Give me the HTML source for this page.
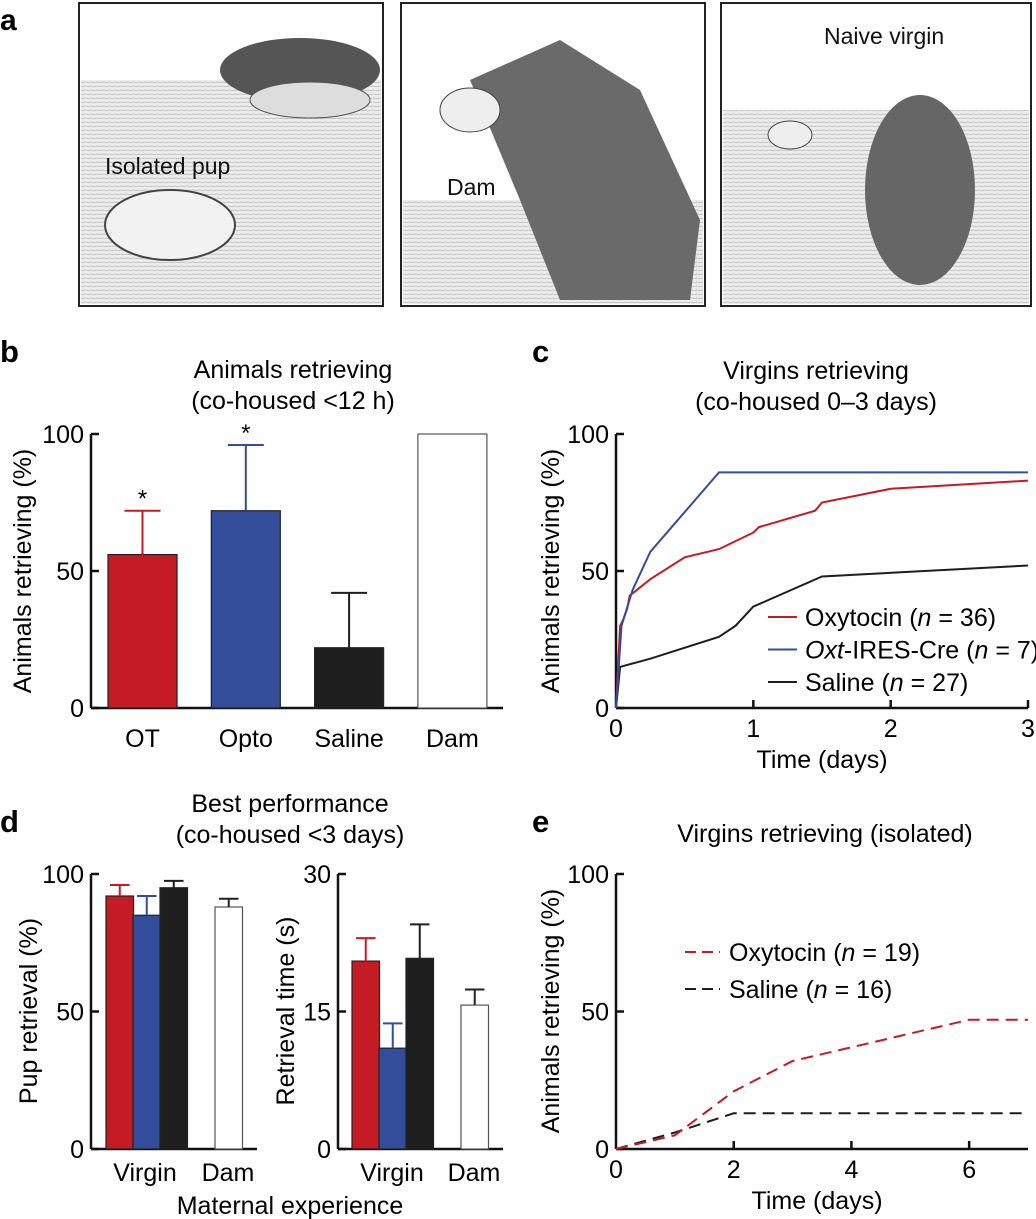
<!DOCTYPE html>
<html><head><meta charset="utf-8"><style>
html,body{margin:0;padding:0;background:#fff;}
svg{display:block;font-family:"Liberation Sans",Arial,sans-serif;}
</style></head><body>
<svg id="fig" width="1036" height="1219" viewBox="0 0 1036 1219" xmlns="http://www.w3.org/2000/svg">
<defs>
<pattern id="hatch" width="6" height="4" patternUnits="userSpaceOnUse">
<rect width="6" height="4" fill="#e4e4e4"/><line x1="0" y1="2" x2="6" y2="2.6" stroke="#9a9a9a" stroke-width="0.8"/>
</pattern>
</defs>
<g>
<text x="0" y="30" font-size="30" font-weight="bold">a</text>
<g>
<rect x="79" y="3" width="304" height="303" fill="#fff" stroke="#222" stroke-width="2"/>
<rect x="81" y="80" width="300" height="224" fill="url(#hatch)" opacity="0.7"/>
<ellipse cx="300" cy="70" rx="80" ry="32" fill="#555"/>
<ellipse cx="310" cy="100" rx="60" ry="18" fill="#ddd" stroke="#555"/>
<ellipse cx="170" cy="225" rx="65" ry="35" fill="#f2f2f2" stroke="#444" stroke-width="2"/>
<text x="105" y="174" font-size="23" fill="#111">Isolated pup</text>
</g>
<g>
<rect x="401" y="3" width="304" height="303" fill="#fff" stroke="#222" stroke-width="2"/>
<rect x="403" y="200" width="300" height="104" fill="url(#hatch)" opacity="0.7"/>
<path d="M470 80 L560 40 L640 90 L700 220 L690 300 L560 300 L520 200 Z" fill="#6a6a6a"/>
<ellipse cx="470" cy="110" rx="30" ry="22" fill="#eee" stroke="#444"/>
<text x="447" y="195" font-size="23" fill="#111">Dam</text>
</g>
<g>
<rect x="721" y="3" width="310" height="303" fill="#fff" stroke="#222" stroke-width="2"/>
<rect x="723" y="110" width="306" height="194" fill="url(#hatch)" opacity="0.7"/>
<ellipse cx="920" cy="190" rx="55" ry="95" fill="#666"/>
<ellipse cx="790" cy="135" rx="22" ry="14" fill="#eee" stroke="#444"/>
<text x="824" y="44" font-size="23" fill="#111">Naive virgin</text>
</g>
</g>
<g id="pb"></g>
<g id="pc"></g>
<g id="pd"></g>
<g id="pe"></g>
</svg>
<script>
// ---- data ----
const bCats = ["OT","Opto","Saline","Dam"];
const bVals = [56, 72, 22, 100];
const bErr = [72, 96, 42, null];
const bStars = [true, true, false, false];
const yTicks100 = [0, 50, 100];

const cOxtX = [0,0.03,0.05,0.08,0.1,0.25,0.5,0.75,1,1.04,1.45,1.5,2,3];
const cOxtY = [0,30,32,36,41,47,55,58,64,66,72,75,80,83];
const cCreX = [0,0.04,0.12,0.25,0.75,3];
const cCreY = [0,30,43,57,86,86];
const cSalX = [0,0.03,0.25,0.75,0.87,1,1.5,3];
const cSalY = [0,15,18,26,30,37,48,52];
const cXTicks = [0,1,2,3];

const dCats = ["Virgin","Dam"];
const dPupVals = [92, 85, 95, 88];
const dPupErr = [96, 92, 97.5, 91];
const dTimeVals = [20.5, 11, 20.8, 15.7];
const dTimeErr = [23, 13.7, 24.5, 17.4];
const dTimeTicks = [0, 15, 30];

const eOxtX = [0,1,1.5,2,3,4,5,6,7];
const eOxtY = [0,5,13,21,32,37,42,47,47];
const eSalX = [0,1,2,7];
const eSalY = [0,6,13,13];
const eXTicks = [0,2,4,6];

const NS="http://www.w3.org/2000/svg";
function mk(parent,tag,attrs,text){const e=document.createElementNS(NS,tag);for(const k in attrs)e.setAttribute(k,attrs[k]);if(text!==undefined)e.textContent=text;parent.appendChild(e);return e;}
function lin(d0,d1,r0,r1){return v=>r0+(v-d0)/(d1-d0)*(r1-r0);}

const RED="#c41b24", BLUE="#344d9a", BLK="#1e1e1e";
const FS=25;

function yAxis(g,x,y0,y1,ticks,ys,xEnd){
  let ax=mk(g,'line',{x1:x,y1:ys(ticks[ticks.length-1]),x2:x,y2:y0,stroke:"#111","stroke-width":2.5});
  
  
  let bx=mk(g,'line',{x1:x,y1:y0,x2:xEnd,y2:y0,stroke:"#111","stroke-width":2.5});
  
  
  ticks.forEach(t=>{
    mk(g,'line',{x1:x,y1:ys(t),x2:x+8,y2:ys(t),stroke:"#111","stroke-width":2.5});
    let tl=mk(g,'text',{x:x-7,y:ys(t)+9,"font-size":FS,"text-anchor":"end"},String(t));
    
    
  });
}
function title(g,x,lines,y0){
  lines.forEach((l,i)=>{let t=mk(g,'text',{x:x,y:y0+i*31,"font-size":FS,"text-anchor":"middle"},l);
  
  });
}
function ylabel(g,x,y,txt){
  let t=mk(g,'text',{x:x,y:y,"font-size":FS,"text-anchor":"middle",transform:`rotate(-90 ${x} ${y})`},txt);
  
  
}
function letter(g,x,y,l){let t=mk(g,'text',{x:x,y:y,"font-size":31,"font-weight":"bold"},l);
  
  }
function bar(g,x,w,v,err,ys,y0,color,stroke){
  let r=mk(g,'rect',{x:x,y:ys(v),width:w,height:y0-ys(v),fill:color,stroke:stroke||"#222","stroke-width":1.2});
  
  
  if(err!=null){
    const ec = color==="#fff"?"#222":color;
    mk(g,'line',{x1:x+w/2,y1:ys(v),x2:x+w/2,y2:ys(err),stroke:ec,"stroke-width":2});
    mk(g,'line',{x1:x+w/2-Math.min(18,w/2-4),y1:ys(err),x2:x+w/2+Math.min(18,w/2-4),y2:ys(err),stroke:ec,"stroke-width":2});
  }
}
function path(g,xs,ys,X,Y,color,dash,name){
  let d=X.map((v,i)=>(i?'L':'M')+xs(v).toFixed(1)+' '+ys(Y[i]).toFixed(1)).join(' ');
  let p=mk(g,'path',{d:d,fill:"none",stroke:color,"stroke-width":2,"stroke-dasharray":dash||"none"});
  
  
}

// ---- panel b ----
(function(){
 const g=document.getElementById('pb');
 letter(g,0,362,'b');
 title(g,293,["Animals retrieving","(co-housed <12 h)"],378);
 const ys=lin(0,100,708,434);
 yAxis(g,91,708,434,yTicks100,ys,503);
 ylabel(g,31,571,"Animals retrieving (%)");
 const cols=[RED,BLUE,BLK,"#fff"];
 bCats.forEach((c,i)=>{
   const x=108+i*103.3, w=69;
   bar(g,x,w,bVals[i],bErr[i],ys,708,cols[i],i===3?"#555":"#222");
   if(bStars[i]){let s=mk(g,'text',{x:x+w/2,y:ys(bErr[i])-4,"font-size":24,"text-anchor":"middle"},"*");
     
     }
   let t=mk(g,'text',{x:x+w/2,y:747,"font-size":FS,"text-anchor":"middle"},c);
   
   
 });
})();

// ---- panel c ----
(function(){
 const g=document.getElementById('pc');
 letter(g,532,362,'c');
 title(g,816,["Virgins retrieving","(co-housed 0–3 days)"],379);
 const xs=lin(0,3,616,1028), ys=lin(0,100,708,434);
 yAxis(g,616,708,434,yTicks100,ys,1028);
 cXTicks.forEach(t=>{
   if(t>0) mk(g,'line',{x1:xs(t),y1:708,x2:xs(t),y2:700,stroke:"#111","stroke-width":2.5});
   let l=mk(g,'text',{x:xs(t),y:737,"font-size":FS,"text-anchor":"middle"},String(t));
   
   
 });
 let xt=mk(g,'text',{x:822,y:768,"font-size":FS,"text-anchor":"middle"},"Time (days)");
 
 
 ylabel(g,559,571,"Animals retrieving (%)");
 path(g,xs,ys,cSalX,cSalY,BLK,null,'line-saline');
 path(g,xs,ys,cOxtX,cOxtY,RED,null,'line-oxytocin');
 path(g,xs,ys,cCreX,cCreY,BLUE,null,'line-oxt-ires-cre');
 const leg=[[RED,"Oxytocin (","36)"],[BLUE,"-IRES-Cre (","7)"],[BLK,"Saline (","27)"]];
 leg.forEach((l,i)=>{
   const y=617+i*32.5;
   let e=mk(g,'g',{});
   
   
   mk(e,'line',{x1:768,y1:y,x2:797,y2:y,stroke:l[0],"stroke-width":2});
   const t=mk(e,'text',{x:805,y:y+9,"font-size":FS});
   if(i===1){mk(t,'tspan',{"font-style":"italic"},"Oxt");}
   mk(t,'tspan',{},l[1]); mk(t,'tspan',{"font-style":"italic"},"n"); mk(t,'tspan',{}," = "+l[2]);
 });
})();

// ---- panel d ----
(function(){
 const g=document.getElementById('pd');
 letter(g,0,832,'d');
 title(g,290,["Best performance","(co-housed <3 days)"],812);
 const cols=[RED,BLUE,BLK,"#fff"];
 const xsL=[106,133,160,215], xsR=[352,379,406,461];
 const ysL=lin(0,100,1149,874);
 yAxis(g,91,1149,874,yTicks100,ysL,257);
 ylabel(g,37,1011,"Pup retrieval (%)");
 dPupVals.forEach((v,i)=>bar(g,xsL[i],27.5,v,dPupErr[i],ysL,1149,cols[i],i===3?"#555":"#222"));
 const ysR=lin(0,30,1149,874);
 yAxis(g,338,1149,874,dTimeTicks,ysR,503);
 ylabel(g,294,1011,"Retrieval time (s)");
 dTimeVals.forEach((v,i)=>bar(g,xsR[i],27.5,v,dTimeErr[i],ysR,1149,cols[i],i===3?"#555":"#222"));
 [[145,"Virgin"],[228,"Dam"],[392,"Virgin"],[474,"Dam"]].forEach(p=>{
   let t=mk(g,'text',{x:p[0],y:1181,"font-size":FS,"text-anchor":"middle"},p[1]);
   
   
 });
 let xt=mk(g,'text',{x:290,y:1214,"font-size":FS,"text-anchor":"middle"},"Maternal experience");
 
 
})();

// ---- panel e ----
(function(){
 const g=document.getElementById('pe');
 letter(g,532,832,'e');
 title(g,825,["Virgins retrieving (isolated)"],842);
 const xs=lin(0,7,616,1028), ys=lin(0,100,1149,874);
 yAxis(g,616,1149,874,yTicks100,ys,1028);
 eXTicks.forEach(t=>{
   if(t>0) mk(g,'line',{x1:xs(t),y1:1149,x2:xs(t),y2:1141,stroke:"#111","stroke-width":2.5});
   let l=mk(g,'text',{x:xs(t),y:1178,"font-size":FS,"text-anchor":"middle"},String(t));
   
   
 });
 let xt=mk(g,'text',{x:817,y:1209,"font-size":FS,"text-anchor":"middle"},"Time (days)");
 
 
 ylabel(g,559,1011,"Animals retrieving (%)");
 path(g,xs,ys,eSalX,eSalY,BLK,"12 7",'line-saline-isolated');
 path(g,xs,ys,eOxtX,eOxtY,RED,"12 7",'line-oxytocin-isolated');
 [[RED,"Oxytocin (","19)"],[BLK,"Saline (","16)"]].forEach((l,i)=>{
   const y=952+i*37;
   let e=mk(g,'g',{});
   
   
   mk(e,'line',{x1:685,y1:y,x2:720,y2:y,stroke:l[0],"stroke-width":2,"stroke-dasharray":"11 6"});
   const t=mk(e,'text',{x:729,y:y+9,"font-size":FS});
   mk(t,'tspan',{},l[1]); mk(t,'tspan',{"font-style":"italic"},"n"); mk(t,'tspan',{}," = "+l[2]);
 });
})();
</script>
</body></html>
